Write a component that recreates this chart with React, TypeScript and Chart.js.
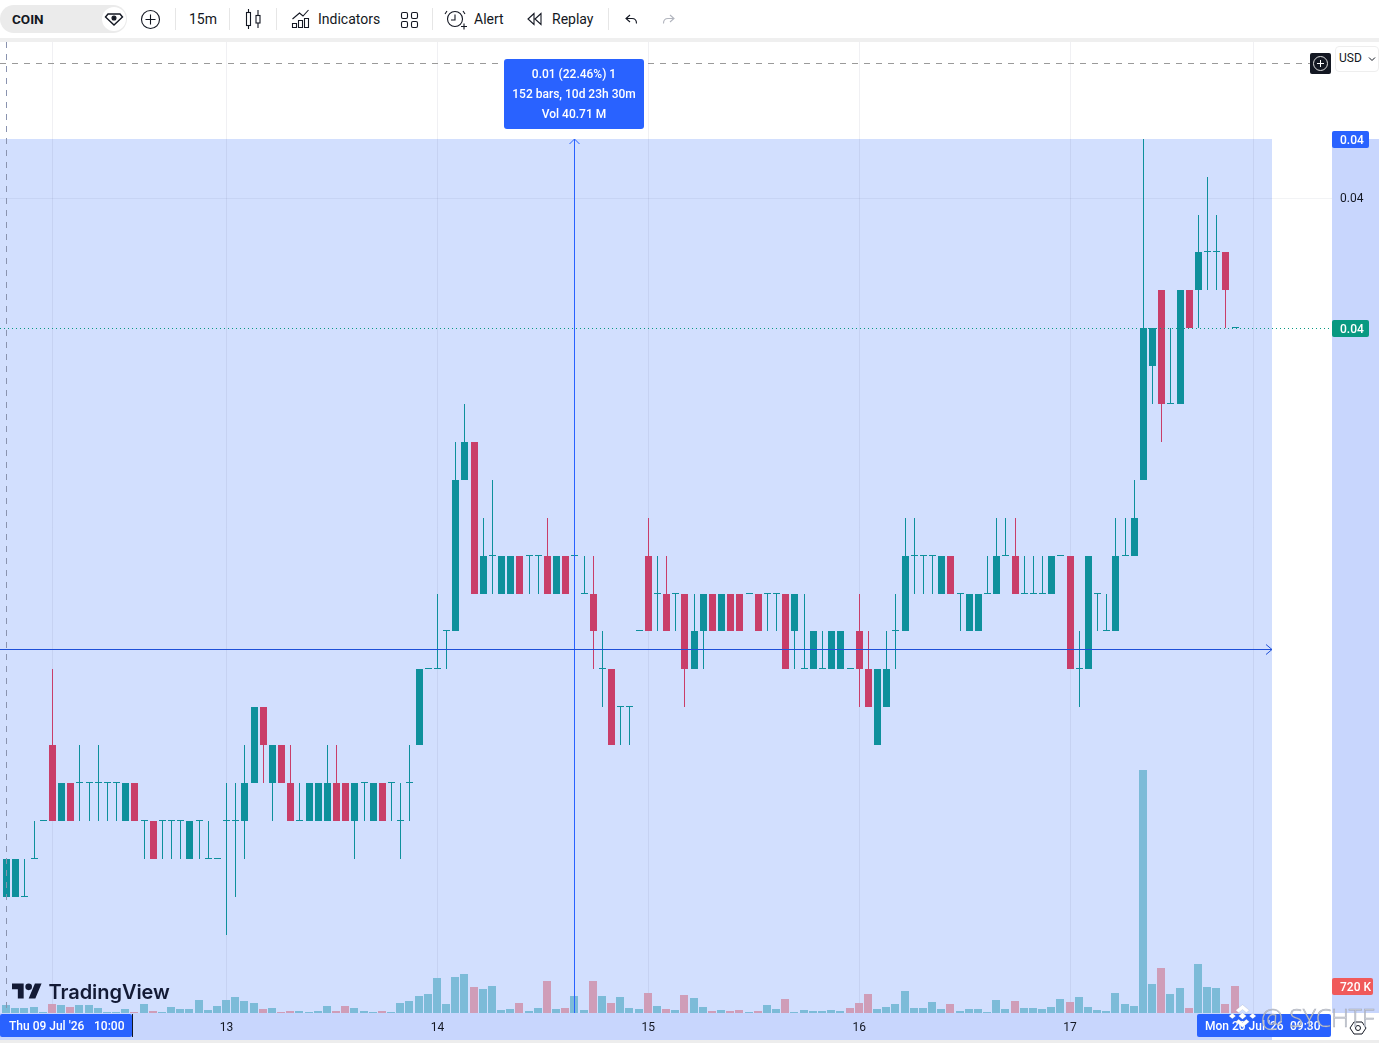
import React, { useEffect, useRef } from "react";
import { Chart, registerables } from "chart.js";

Chart.register(...registerables);

// Prices are stored in whole ticks above BASE_PRICE.
const BASE_PRICE = 0.0321;
const TICK_SIZE = 0.0006;

const opens = [0,0,0,1,2,4,2,3,3,3,3,3,3,2,3,2,2,2,2,2,1,2,1,1,2,2,2,3,5,3,4,3,2,2,2,2,3,3,2,3,2,3,3,2,3,4,6,6,7,7,11,12,8,9,8,8,9,9,9,9,8,9,9,8,8,6,6,5,5,7,9,8,8,8,8,6,7,8,7,8,8,8,8,8,8,8,7,6,6,6,6,6,6,7,6,4,5,7,7,9,9,9,8,9,8,7,7,8,8,9,9,8,8,8,8,9,9,6,6,8,7,7,9,9,11,14,16,13,13,16,16,17,17,17,15];
const highs = [1,1,1,2,2,6,3,3,4,3,4,3,3,3,3,2,2,2,2,2,2,2,2,1,3,3,4,5,5,4,4,4,3,3,3,4,4,3,3,3,3,3,3,3,4,6,6,8,7,12,13,12,10,11,9,9,9,9,9,10,9,9,9,9,9,7,6,5,5,7,10,9,9,8,8,8,8,8,8,8,8,8,8,8,8,8,8,8,7,7,7,7,6,8,7,6,7,8,10,10,9,9,9,9,8,8,8,9,10,10,10,9,9,9,9,9,9,7,9,8,8,10,10,11,20,15,16,15,16,16,18,19,18,17,15];
const lows = [0,0,0,1,2,2,2,2,2,2,2,2,2,2,2,1,1,1,1,1,1,1,1,1,-1,0,1,3,3,2,3,2,2,2,2,2,2,2,1,2,2,2,2,1,2,4,6,6,6,7,11,8,8,8,8,8,8,8,8,8,8,8,9,8,6,5,4,4,4,7,7,7,7,7,5,6,6,7,7,7,7,8,7,7,7,6,6,6,6,6,6,6,6,5,5,4,5,6,7,8,8,8,8,8,7,7,7,8,8,9,8,8,8,8,8,9,6,5,6,7,7,7,9,9,11,13,12,13,13,15,15,16,16,15,15];
const closes = [1,1,0,1,2,2,3,2,3,3,3,3,3,3,2,2,1,2,2,2,2,2,1,1,2,2,3,5,4,4,3,2,2,3,3,3,2,2,3,3,3,2,3,2,3,6,6,6,7,11,12,8,9,9,9,9,8,9,9,8,9,8,9,8,7,6,4,5,5,7,7,8,7,8,6,7,8,7,8,7,7,8,7,8,8,6,8,6,7,6,7,7,6,6,5,6,6,7,9,9,9,9,9,8,8,8,8,8,9,9,8,8,8,8,9,9,6,6,9,8,7,9,9,10,15,15,13,13,16,15,17,17,17,16,15];
// Volume in thousands.
const volumesK = [213,133,133,160,27,240,213,160,213,213,133,27,27,107,27,240,53,27,160,107,107,347,80,187,347,427,320,267,107,133,27,53,53,27,53,187,53,187,133,53,27,53,27,267,320,453,507,933,240,960,1040,693,640,720,80,107,267,53,133,853,107,133,453,80,853,453,267,427,133,107,533,187,107,80,480,400,160,53,80,53,80,27,53,213,107,373,27,80,53,53,80,53,133,267,507,107,160,240,587,133,133,293,107,240,53,107,107,27,347,107,320,133,133,107,160,373,293,427,160,80,53,533,240,187,6480,773,1200,507,667,133,1307,693,667,240,720];
const pinkVolumeBars = [92, 134];
const dayGridBars = [5, 24, 47, 70, 93, 116, 136];
const dayLabels: Record<number, string> = { 24: "13", 47: "14", 70: "15", 93: "16", 116: "17" };
const priceAxisValue = 0.04315;
const lastPrice = 0.0411;
const rangeTopPrice = 0.0441;
const rangeStartPrice = 0.03601;
const rangeBar = 62;
const startBar = 0;

const TEAL = "#0E909C";
const RED = "#C93E69";
const FONT = "Roboto, sans-serif";

const price = (t: number) => BASE_PRICE + t * TICK_SIZE;

function snapOdd(v: number) {
  return Math.floor(v) + 0.5;
}

const chartPlugin = {
  id: "tvFrame",
  afterDatasetsUpdate(chart: any) {
    const xs = chart.scales.x;
    chart.data.datasets.forEach((ds: any, di: number) => {
      const meta = chart.getDatasetMeta(di);
      const w = ds.barThickness;
      meta.data.forEach((el: any, i: number) => {
        const px = xs.getPixelForValue(ds.data[i].x);
        el.x = w % 2 ? snapOdd(px) : Math.floor(px);
        let top = Math.round(Math.min(el.y, el.base));
        let bot = Math.round(Math.max(el.y, el.base));
        if (ds.isBody && bot - top < 1) bot = top + 1;
        el.y = top;
        el.base = bot;
        el.height = bot - top;
      });
    });
  },
  beforeDraw(chart: any) {
    const c = chart.ctx;
    const ys = chart.scales.y;
    const top = Math.round(ys.getPixelForValue(rangeTopPrice));
    const { right, bottom } = chart.chartArea;
    const rangeRight = 1272;
    c.save();
    c.fillStyle = "#ffffff";
    c.fillRect(0, 0, chart.width, chart.height);
    c.fillStyle = "#D2DFFE";
    c.fillRect(0, top, rangeRight, bottom - top);
    c.fillStyle = "#C8D6FD";
    c.fillRect(right, top, chart.width - right, bottom - top);
    c.fillRect(0, bottom, rangeRight, 27);
    c.fillStyle = "#EDEDED";
    c.fillRect(0, bottom + 27, chart.width, 3);
    c.restore();
  },
  afterDatasetsDraw(chart: any) {
    const c = chart.ctx;
    const xs = chart.scales.x;
    const ys = chart.scales.y;
    const { right, bottom, top } = chart.chartArea;
    const rangeRight = 1272;
    const yTop = Math.round(ys.getPixelForValue(rangeTopPrice));
    const xStart = snapOdd(xs.getPixelForValue(startBar));
    const xEnd = snapOdd(xs.getPixelForValue(rangeBar));
    const yStart = Math.floor(ys.getPixelForValue(rangeStartPrice)) + 0.5;
    const yLast = Math.floor(ys.getPixelForValue(lastPrice)) + 0.5;
    c.save();
    // dashed anchors of the measure
    c.lineWidth = 1;
    c.strokeStyle = "#8A93AF";
    c.setLineDash([6, 6]);
    c.beginPath();
    c.moveTo(xStart, top);
    c.lineTo(xStart, bottom);
    c.stroke();
    c.strokeStyle = "#9A9A9A";
    c.beginPath();
    c.moveTo(0, 63.5);
    c.lineTo(1310, 63.5);
    c.stroke();
    // last price line
    c.setLineDash([1, 3]);
    c.strokeStyle = "#089981";
    c.beginPath();
    c.moveTo(0, yLast);
    c.lineTo(right, yLast);
    c.stroke();
    c.setLineDash([]);
    // measure arrows
    c.strokeStyle = "#2962FF";
    c.beginPath();
    c.moveTo(xEnd, bottom);
    c.lineTo(xEnd, yTop);
    c.moveTo(xEnd - 5, yTop + 5);
    c.lineTo(xEnd, yTop);
    c.lineTo(xEnd + 5, yTop + 5);
    c.stroke();
    c.strokeStyle = "#1F50D8";
    c.beginPath();
    c.moveTo(0, yStart);
    c.lineTo(rangeRight, yStart);
    c.moveTo(rangeRight - 6, yStart - 5);
    c.lineTo(rangeRight, yStart);
    c.lineTo(rangeRight - 6, yStart + 5);
    c.stroke();
    // measure box
    c.fillStyle = "#2962FF";
    c.beginPath();
    c.roundRect(504, 59, 140, 70, 3);
    c.fill();
    c.fillStyle = "#ffffff";
    c.font = `500 12px ${FONT}`;
    c.textAlign = "center";
    c.textBaseline = "middle";
    c.fillText("0.01 (22.46%) 1", 574, 74.5);
    c.fillText("152 bars, 10d 23h 30m", 574, 94.5);
    c.fillText("Vol 40.71 M", 574, 114.5);
    // axis tags
    const tag = (x: number, y: number, w: number, h: number, bg: string, text: string, tx: number) => {
      c.fillStyle = bg;
      c.beginPath();
      c.roundRect(x, y, w, h, 2);
      c.fill();
      c.fillStyle = "#ffffff";
      c.textAlign = "left";
      c.fillText(text, tx, y + h / 2 + 1);
    };
    tag(1332, 131, 37, 17, "#2962FF", "0.04", 1340);
    tag(1332, 320, 37, 17, "#089981", "0.04", 1340);
    tag(1332, 978, 41, 17, "#F05A5A", "720 K", 1340);
    tag(0, 1014, 132, 23, "#2962FF", "Thu 09 Jul '26", 9);
    c.fillText("10:00", 94, 1026.5);
    c.fillStyle = "#131722";
    c.fillRect(132, 1014, 1, 23);
    tag(1197, 1014, 134, 23, "#2962FF", "Mon 20 Jul '26", 1205);
    c.fillText("09:30", 1290, 1026.5);
    c.restore();
  },
};

const iconStroke = { fill: "none", stroke: "#131722", strokeWidth: 1.1 } as const;

function Sep({ x }: { x: number }) {
  return <div style={{ position: "absolute", left: x, top: 8, width: 1, height: 22, background: "#E6E6E6" }} />;
}

function Label({ x, text, weight = 400, size = 14 }: { x: number; text: string; weight?: number; size?: number }) {
  return (
    <div style={{ position: "absolute", left: x, top: 11, lineHeight: "16px", fontSize: size, fontWeight: weight, color: "#131722", fontFamily: FONT, whiteSpace: "nowrap" }}>
      {text}
    </div>
  );
}

function Toolbar() {
  return (
    <div style={{ position: "absolute", left: 0, top: 0, width: 1379, height: 38, background: "#fff" }}>
      <div style={{ position: "absolute", left: 0, top: 5, width: 127, height: 28, background: "#EBEBEB", borderRadius: "14px" }} />
      <div style={{ position: "absolute", left: 102, top: 7, width: 24, height: 24, background: "#fff", borderRadius: 12 }} />
      <Label x={12} text="COIN" weight={700} size={13.5} />
      <svg style={{ position: "absolute", left: 0, top: 0 }} width={1379} height={38}>
        <g {...iconStroke}>
          <path d="M108 14h12l2.500 3-8.500 8-8.500-8z" strokeWidth={1.4} />
          <circle cx={114} cy={18} r={2} fill="#131722" />
          <circle cx={150.500} cy={19.500} r={9} />
          <path d="M150.500 14.500v10M145.500 19.500h10" />
          <rect x={246.500} y={12.500} width={4} height={13} />
          <path d="M248.500 9v3.500M248.500 25.500v3.500M258 10v5M258 23v5" />
          <rect x={256} y={15.500} width={4} height={7.500} />
          <path d="M292.500 19l7-6 3.500 3 5.500-6" />
          <path d="M292.500 27.500v-4h4v4zM298.500 27.500v-7h4v7zM304.500 27.500v-9h4v9z" />
          <rect x={401.500} y={12.500} width={6} height={6} rx={1.500} />
          <rect x={411.500} y={12.500} width={6} height={6} rx={1.500} />
          <rect x={401.500} y={21.500} width={6} height={6} rx={1.500} />
          <rect x={411.500} y={21.500} width={6} height={6} rx={1.500} />
          <circle cx={455} cy={19} r={7.500} />
          <path d="M455 14.500V20h-4M447 11l-2 3M463 11l2 3M461 26.500h6M464 23.500v6" />
          <path d="M534 13.500l-6 5.500 6 5.500zM541 13.500l-6 5.500 6 5.500z" />
          <path d="M630 15l-4 3.500 4 3.500M626 18.500h6c3 0 4.500 2 4.500 5" />
          <path d="M670 15l4 3.500-4 3.500M674 18.500h-6c-3 0-4.500 2-4.500 5" stroke="#B2B5BE" />
        </g>
      </svg>
      <Sep x={175} />
      <Label x={189} text="15m" />
      <Sep x={229} />
      <Sep x={276} />
      <Label x={318} text="Indicators" />
      <Sep x={432} />
      <Label x={474} text="Alert" />
      <Label x={552} text="Replay" />
      <Sep x={608} />
    </div>
  );
}

function Overlays() {
  return (
    <>
      <svg style={{ position: "absolute", left: 12, top: 983 }} width={30} height={16} viewBox="0 4 36 18">
        <path fill="#131A35" d="M14 22H7V11H0V4h14v18zM28 22h-8l7.500-18h8L28 22z" />
        <circle fill="#131A35" cx={20} cy={8} r={4} />
      </svg>
      <div style={{ position: "absolute", left: 48.500, top: 979, fontFamily: "Inter, sans-serif", fontSize: 20, lineHeight: "26px", fontWeight: 600, color: "#131A35", letterSpacing: -0.05, whiteSpace: "nowrap" }}>
        TradingView
      </div>
      <div style={{ position: "absolute", left: 1310, top: 53, width: 21, height: 21, background: "#131722", borderRadius: 2 }}>
        <svg width={21} height={21}>
          <circle cx={10.500} cy={10.500} r={7} fill="none" stroke="#ddd" />
          <path d="M10.500 7v7M7 10.500h7" stroke="#fff" />
        </svg>
      </div>
      <div style={{ position: "absolute", left: 1335, top: 46, width: 44, height: 26, background: "#fff", border: "1px solid #EEE", borderRadius: 4, boxSizing: "border-box", fontFamily: FONT, fontSize: 12, lineHeight: "22px", paddingLeft: 3, color: "#131722" }}>
        USD
        <svg style={{ position: "absolute", left: 32, top: 9 }} width={8} height={6}>
          <path d="M1 1.500l3 3 3-3" fill="none" stroke="#131722" />
        </svg>
      </div>
      <svg style={{ position: "absolute", left: 1348, top: 1018 }} width={20} height={20}>
        <path d="M6 4h8l4 6-4 6H6l-4-6z" fill="none" stroke="#131722" />
        <circle cx={10} cy={10} r={2.500} fill="none" stroke="#131722" />
      </svg>
      <svg style={{ position: "absolute", left: 1227, top: 1003 }} width={31} height={26} viewBox="0 0 32 32" preserveAspectRatio="none">
        <g fill="#ffffff" stroke="rgba(120,130,160,0.4)" strokeWidth={0.5}>
          <path d="M16 2l7 7-3 3-4-4-4 4-3-3zM16 30l7-7-3-3-4 4-4-4-3 3zM2 16l3.500-3.500 3.500 3.500-3.500 3.500zM23 16l3.500-3.500 3.500 3.500-3.500 3.500zM16 12l4 4-4 4-4-4z" />
        </g>
      </svg>
      <div style={{ position: "absolute", left: 1261, top: 1000, fontFamily: "'Open Sans', sans-serif", fontSize: 25, fontWeight: 300, lineHeight: "34px", color: "rgba(205,208,216,0.92)", WebkitTextStroke: "0.5px rgba(140,145,160,0.7)", whiteSpace: "nowrap", letterSpacing: -0.2 }}>
        @ SYCHTF
      </div>
    </>
  );
}

export default function App() {
  const ref = useRef<HTMLCanvasElement>(null);
  useEffect(() => {
    const bars = opens.map((_, i) => i);
    const candleColor = (i: number) => (closes[i] < opens[i] ? RED : TEAL);
    const chart = new Chart(ref.current as HTMLCanvasElement, {
      type: "bar",
      data: {
        datasets: [
          {
            label: "Body",
            order: 1,
            grouped: false,
            isBody: true,
            barThickness: 7,
            minBarLength: 1,
            inflateAmount: 0,
            borderWidth: 0,
            yAxisID: "y",
            backgroundColor: bars.map(candleColor),
            data: bars.map((i) => ({ x: i, y: [price(opens[i]), price(closes[i])] })),
          },
          {
            label: "Wick",
            order: 2,
            grouped: false,
            barThickness: 1,
            inflateAmount: 0,
            borderWidth: 0,
            yAxisID: "y",
            backgroundColor: bars.map(candleColor),
            data: bars.map((i) => ({ x: i, y: [price(lows[i]), price(highs[i])] })),
          },
          {
            label: "Volume",
            order: 3,
            grouped: false,
            barThickness: 8,
            inflateAmount: 0,
            borderWidth: 0,
            yAxisID: "yVol",
            backgroundColor: bars.map((i) => (closes[i] < opens[i] || pinkVolumeBars.includes(i) ? "#CF9DB8" : "#7CBBD8")),
            data: bars.map((i) => ({ x: i, y: volumesK[i] })),
          },
        ] as any,
      },
      options: {
        animation: false,
        responsive: false,
        devicePixelRatio: 1,
        layout: { padding: { top: 42, bottom: 3, left: 0, right: 0 } },
        plugins: { legend: { display: false }, tooltip: { enabled: false }, title: { display: false } },
        events: [],
        scales: {
          x: {
            type: "linear",
            offset: false,
            min: -6.55 / 9.168,
            max: (1332 - 6.55) / 9.168,
            grid: { offset: false, color: "rgba(42,46,90,0.07)", drawTicks: false },
            border: { display: false },
            afterBuildTicks: (axis: any) => {
              axis.ticks = dayGridBars.map((value) => ({ value }));
            },
            afterFit: (axis: any) => {
              axis.height = 27;
            },
            ticks: {
              autoSkip: false,
              maxRotation: 0,
              padding: 8,
              color: "#131722",
              font: { family: FONT, size: 12 },
              callback: (v: any) => dayLabels[v] ?? "",
            },
          },
          y: {
            type: "linear",
            position: "right",
            min: price((896.7 - 1013) / 37.9),
            max: price((896.7 - 42) / 37.9),
            grid: { color: "rgba(42,46,90,0.06)", drawTicks: false },
            border: { display: false },
            afterBuildTicks: (axis: any) => {
              axis.ticks = [{ value: priceAxisValue }];
            },
            afterFit: (axis: any) => {
              axis.width = 47;
            },
            ticks: {
              padding: 8,
              color: "#131722",
              font: { family: FONT, size: 12 },
              callback: (v: any) => Number(v).toFixed(2),
            },
          },
          yVol: {
            type: "linear",
            display: false,
            min: 0,
            max: 25900,
          },
        },
      } as any,
      plugins: [chartPlugin as any],
    });
    return () => chart.destroy();
  }, []);
  return (
    <div style={{ position: "absolute", left: 0, top: 0, width: 1379, height: 1043, overflow: "hidden", background: "#fff" }}>
      <canvas ref={ref} width={1379} height={1043} style={{ display: "block", position: "absolute", left: 0, top: 0 }} />
      <Toolbar />
      <div style={{ position: "absolute", left: 0, top: 38, width: 1379, height: 4, background: "#EFEFEF" }} />
      <Overlays />
    </div>
  );
}
